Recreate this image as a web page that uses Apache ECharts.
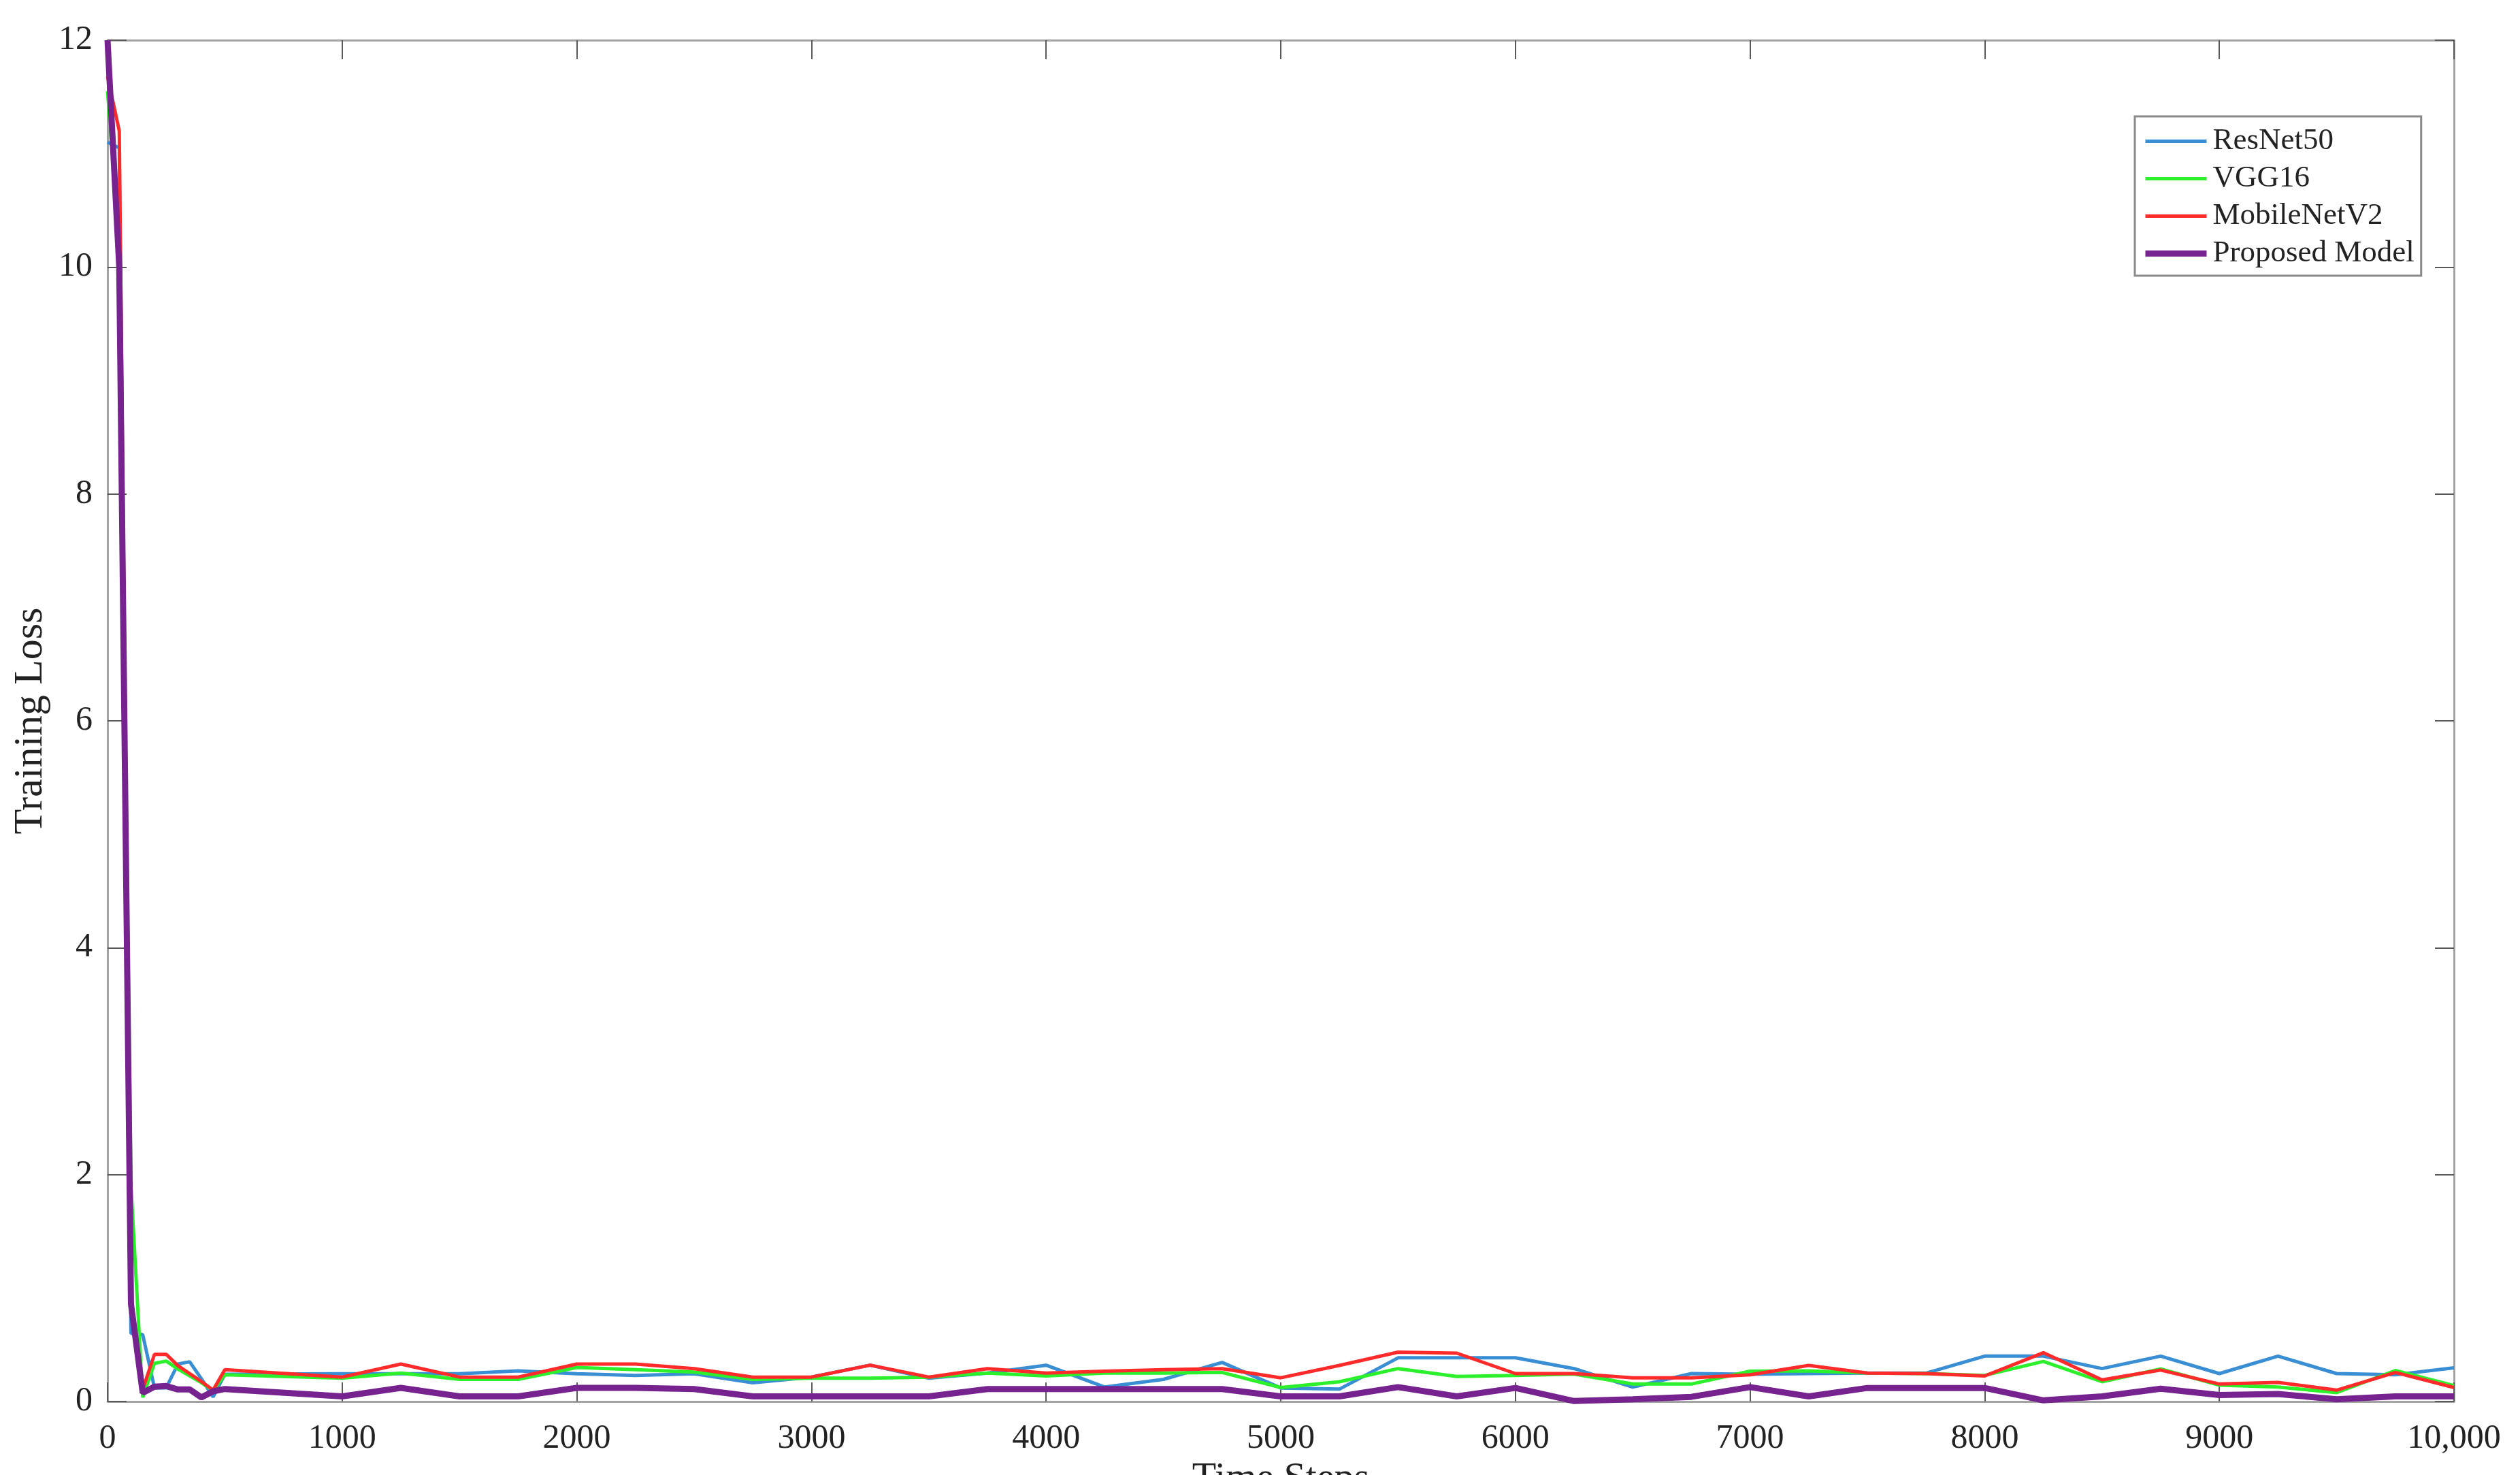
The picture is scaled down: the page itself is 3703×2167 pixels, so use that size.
<!DOCTYPE html>
<html>
<head>
<meta charset="utf-8">
<script src="https://cdn.jsdelivr.net/npm/echarts@6/dist/echarts.min.js"></script>
<style>
html,body{margin:0;padding:0;background:#fff;}
#chart{width:3703px;height:2167px;}
</style>
</head>
<body>
<div id="chart"></div>
<script>
const steps = [0,50,100,150,200,250,300,350,400,450,500,
  1000,1250,1500,1750,2000,2250,2500,2750,3000,3250,3500,3750,4000,4250,4500,4750,
  5000,5250,5500,5750,6000,6250,6500,6750,7000,7250,7500,7750,8000,8250,8500,8750,
  9000,9250,9500,9750,10000];

const resnet50 = [11.1,11.05,0.6,0.59,0.12,0.12,0.33,0.35,0.2,0.04,0.24,
  0.245,0.245,0.245,0.27,0.245,0.23,0.245,0.165,0.215,0.32,0.205,0.25,0.32,0.127,0.195,0.344,
  0.119,0.109,0.385,0.385,0.385,0.29,0.127,0.246,0.24,0.246,0.25,0.25,0.4,0.4,0.29,0.4,
  0.246,0.4,0.246,0.236,0.297];

const vgg16 = [11.55,10.2,1.9,0.036,0.336,0.356,0.286,0.226,0.166,0.096,0.236,
  0.205,0.25,0.195,0.195,0.30,0.28,0.26,0.195,0.205,0.205,0.215,0.25,0.225,0.25,0.25,0.256,
  0.123,0.174,0.29,0.22,0.23,0.242,0.154,0.154,0.267,0.27,0.25,0.246,0.23,0.353,0.174,0.287,
  0.144,0.127,0.078,0.273,0.14];

const mobilenetv2 = [11.68,11.2,0.88,0.106,0.416,0.416,0.316,0.246,0.176,0.1,0.28,
  0.215,0.33,0.215,0.215,0.33,0.33,0.29,0.215,0.215,0.32,0.215,0.29,0.25,0.267,0.28,0.29,
  0.209,0.318,0.435,0.426,0.246,0.246,0.209,0.209,0.236,0.318,0.25,0.246,0.225,0.43,0.19,0.277,
  0.154,0.168,0.1,0.256,0.123];

const proposed = [12,10.0,0.86,0.076,0.13,0.136,0.106,0.106,0.036,0.09,0.11,
  0.045,0.12,0.045,0.045,0.12,0.12,0.11,0.045,0.045,0.045,0.045,0.11,0.11,0.109,0.109,0.109,
  0.045,0.045,0.127,0.045,0.119,0.004,0.02,0.041,0.127,0.045,0.119,0.119,0.119,0.01,0.045,0.113,
  0.057,0.066,0.02,0.045,0.045];

const seriesNames = ['ResNet50','VGG16','MobileNetV2','Proposed Model'];
const seriesColors = ['#3a8ed4','#2cf02c','#ff2b2b','#76238f'];
const seriesWidths = [5,5,5,9];
const xTickLabels = {10000:'10,000'};
const xAxisTitle = 'Time Steps';
const yAxisTitle = 'Training Loss';

const FONT = '"Liberation Serif","Times New Roman",serif';
const pairs = arr => steps.map((s,i)=>[s,arr[i]]);

const chart = echarts.init(document.getElementById('chart'), null, {renderer:'canvas'});
const axisLineStyle = {color:'#a3a3a3', width:3};
const tickStyle = {color:'#5a5a5a', width:2};

const allData = [resnet50, vgg16, mobilenetv2, proposed];
const series = allData.map((d,i) => ({
  name: seriesNames[i], type:'line', data: pairs(d), symbol:'none', smooth:false,
  xAxisIndex:0, yAxisIndex:0,
  lineStyle:{color:seriesColors[i], width:seriesWidths[i]},
  itemStyle:{color:seriesColors[i]}, z: i===3?3:2
}));

chart.setOption({
  animation:false,
  backgroundColor:'#ffffff',
  grid:{left:158, right:97, top:59, bottom:108, containLabel:false, outerBoundsMode:'none'},
  legend:{
    orient:'vertical', left:3137, top:171,
    padding:[14,10,10,11], itemGap:10, itemWidth:90, itemHeight:14,
    backgroundColor:'#ffffff', borderColor:'#8a8a8a', borderWidth:3,
    itemStyle:{opacity:0},
    textStyle:{fontFamily:FONT, fontSize:45, color:'#222', padding:[0,0,0,4]},
    data: seriesNames.map((n,i)=>({name:n, lineStyle:{color:seriesColors[i], width:seriesWidths[i]}, itemStyle:{opacity:0}}))
  },
  xAxis:[{
    type:'value', min:0, max:10000, interval:1000, position:'bottom',
    axisLine:{show:true, onZero:false, lineStyle:axisLineStyle},
    axisTick:{show:true, inside:true, length:28, lineStyle:tickStyle},
    axisLabel:{fontFamily:FONT, fontSize:50, color:'#222', margin:30,
      formatter: v => xTickLabels[v] || String(v)},
    splitLine:{show:false},
    name:xAxisTitle, nameLocation:'middle', nameGap:84,
    nameTextStyle:{fontFamily:FONT, fontSize:58, color:'#222'}
  },{
    type:'value', min:0, max:10000, interval:1000, position:'top',
    axisLine:{show:true, onZero:false, lineStyle:axisLineStyle},
    axisTick:{show:true, inside:true, length:28, lineStyle:tickStyle},
    axisLabel:{show:false}, splitLine:{show:false}
  }],
  yAxis:[{
    type:'value', min:0, max:12, interval:2, position:'left',
    axisLine:{show:true, onZero:false, lineStyle:axisLineStyle},
    axisTick:{show:true, inside:true, length:28, lineStyle:tickStyle},
    axisLabel:{fontFamily:FONT, fontSize:50, color:'#222', margin:22},
    splitLine:{show:false},
    name:yAxisTitle, nameLocation:'middle', nameGap:70, nameRotate:90,
    nameTextStyle:{fontFamily:FONT, fontSize:60, color:'#222'}
  },{
    type:'value', min:0, max:12, interval:2, position:'right',
    axisLine:{show:true, onZero:false, lineStyle:axisLineStyle},
    axisTick:{show:true, inside:true, length:28, lineStyle:tickStyle},
    axisLabel:{show:false}, splitLine:{show:false}
  }],
  series: series
});
</script>
</body>
</html>
